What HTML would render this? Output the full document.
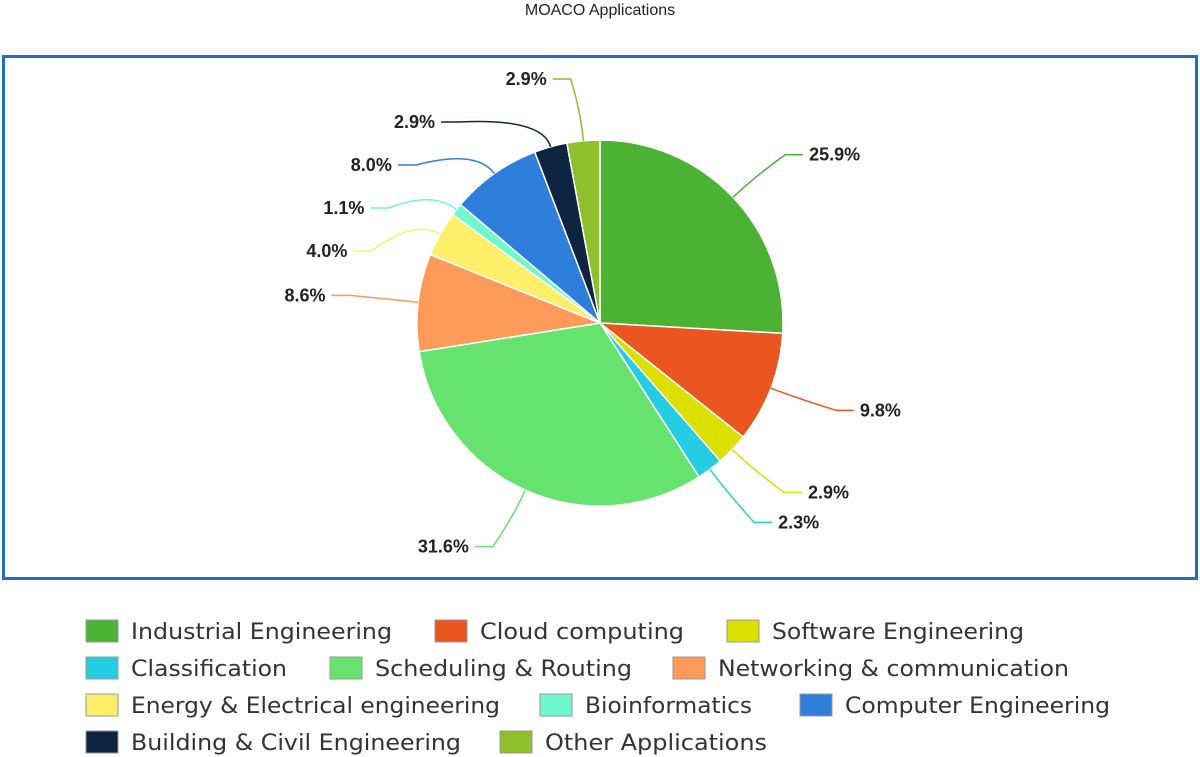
<!DOCTYPE html>
<html><head><meta charset="utf-8"><style>
body{margin:0;width:1200px;height:757px;background:#fff;overflow:hidden;font-family:"Liberation Sans",sans-serif}
#title{position:absolute;top:0;left:0;width:1200px;text-align:center;font-size:16px;color:#222;line-height:22px}
#frame{position:absolute;left:2px;top:55px;width:1190px;height:519px;border:3px solid #1d6fc0}
</style></head><body>
<div id="title">MOACO Applications</div>
<div id="frame"></div>
<svg id="pie" width="1200" height="757" style="position:absolute;left:0;top:0"></svg>
<svg id="legend" width="1200" height="757" style="position:absolute;left:0;top:0"></svg>
<script>
const categories=["Industrial Engineering","Cloud computing","Software Engineering","Classification","Scheduling & Routing","Networking & communication","Energy & Electrical engineering","Bioinformatics","Computer Engineering","Building & Civil Engineering","Other Applications"];
const values=[25.9,9.8,2.9,2.3,31.6,8.6,4.0,1.1,8.0,2.9,2.9];
const colors=["#4cb234","#ea5520","#dbe000","#25cde3","#66e26f","#fc9a5a","#fdef6a","#6ff8cc","#2d7fdb","#0e2440","#8fbf2a"];
const cx=600,cy=323,R=183,NS="http://www.w3.org/2000/svg";
const svg=document.getElementById('pie');
const total=values.reduce((a,b)=>a+b,0);
function pt(a,r){return [cx+r*Math.sin(a),cy-r*Math.cos(a)];}
let acc=0;const mids=[];
values.forEach((v,i)=>{
  const a0=acc/total*2*Math.PI; acc+=v; const a1=acc/total*2*Math.PI;
  const p0=pt(a0,R),p1=pt(a1,R);
  const path=document.createElementNS(NS,'path');
  path.setAttribute('d',`M${cx},${cy}L${p0[0]},${p0[1]}A${R},${R} 0 ${a1-a0>Math.PI?1:0} 1 ${p1[0]},${p1[1]}Z`);
  path.setAttribute('fill',colors[i]);path.setAttribute('stroke','#fff');path.setAttribute('stroke-width','1.5');
  
  
  svg.appendChild(path);
  mids.push((a0+a1)/2);
});
// label layout
const lab=mids.map((am,i)=>{const e=pt(am,R+62);return {i,am,right:Math.sin(am)>=0,y:e[1],x:e[0],moved:false};});
const left=lab.filter(l=>!l.right).sort((a,b)=>a.y-b.y);
for(let k=1;k<left.length;k++){ if(left[k].y<left[k-1].y+43){left[k].y=left[k-1].y+43;left[k].moved=true;} }
const right=lab.filter(l=>l.right).sort((a,b)=>a.y-b.y);
for(let k=1;k<right.length;k++){ if(right[k].y<right[k-1].y+30){right[k].y=right[k-1].y+30;right[k].moved=true;} }
lab.forEach(l=>{
  const i=l.i,am=l.am;
  const s=pt(am,R);
  let ex,ey=l.y;
  if(l.right){ex=l.x+25;}
  else if(l.moved){const dy=ey-cy;ex=cx-Math.sqrt(Math.max(0,(R+72)**2-dy*dy))-2;}
  else{ex=l.x-25;}
  const c=pt(am,R+30);
  const mx=ex+(l.right?-18:18);
  const ln=document.createElementNS(NS,'path');
  ln.setAttribute('d',`M${s[0]},${s[1]}Q${c[0]},${c[1]} ${mx},${ey}L${ex},${ey}`);
  ln.setAttribute('fill','none');ln.setAttribute('stroke',colors[i]);ln.setAttribute('stroke-width','1.5');
  
  
  svg.appendChild(ln);
  const t=document.createElementNS(NS,'text');
  t.setAttribute('x',ex+(l.right?6:-6));t.setAttribute('y',ey+6);
  t.setAttribute('text-anchor',l.right?'start':'end');
  t.setAttribute('font-family','Liberation Sans, sans-serif');t.setAttribute('font-weight','bold');t.setAttribute('font-size','18');t.setAttribute('fill','#222');
  t.textContent=values[i].toFixed(1)+'%';
  
  
  svg.appendChild(t);
});
// legend
const lg=document.getElementById('legend');
const lx=[86,435,727,86,330,673,86,540,800,86,500];
const lw=[261,204,252,156,257,351,369,167,265,330,222];
const rows=[631,668,705,742];
categories.forEach((c,i)=>{
  const x=lx[i],y=rows[Math.floor(i/3)];
  const r=document.createElementNS(NS,'rect');
  r.setAttribute('x',x);r.setAttribute('y',y-11);r.setAttribute('width',32);r.setAttribute('height',22);
  r.setAttribute('fill',colors[i]);r.setAttribute('stroke','#999');r.setAttribute('stroke-width','1');
  
  
  lg.appendChild(r);
  const t=document.createElementNS(NS,'text');
  t.setAttribute('x',x+45);t.setAttribute('y',y+8);
  t.setAttribute('font-family','DejaVu Sans, sans-serif');t.setAttribute('font-size','22');t.setAttribute('fill','#333');
  t.setAttribute('textLength',lw[i]);t.setAttribute('lengthAdjust','spacingAndGlyphs');
  t.textContent=c;
  
  
  lg.appendChild(t);
});
</script>
</body></html>
